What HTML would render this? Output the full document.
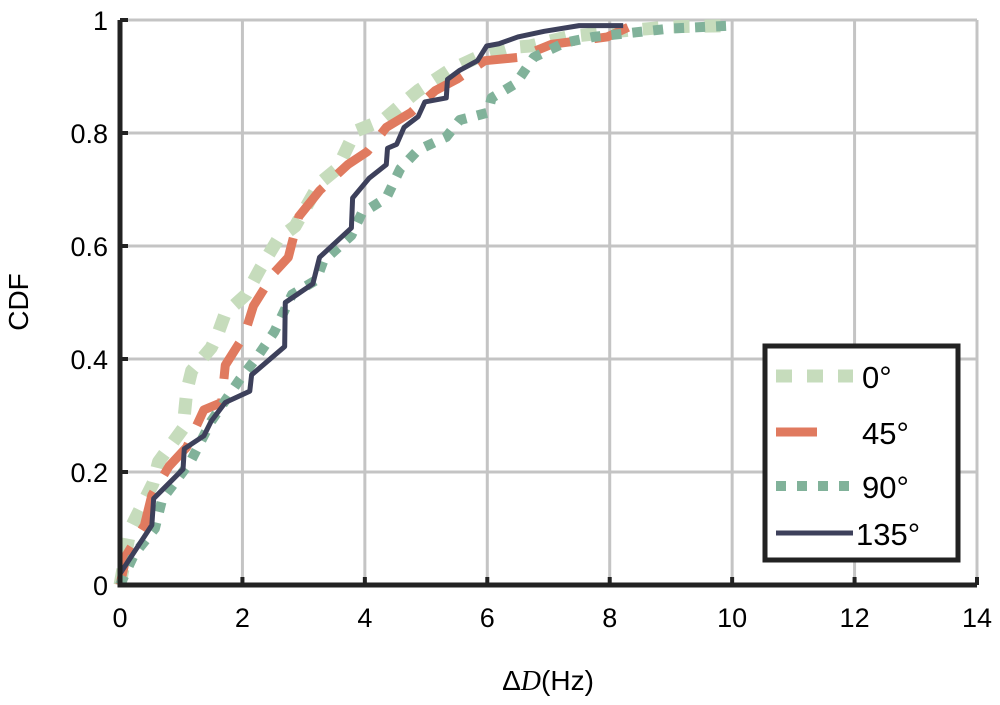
<!DOCTYPE html>
<html><head><meta charset="utf-8"><style>
body{margin:0;background:#fff}
svg text{font-family:"Liberation Sans",sans-serif;fill:#000}
</style></head><body>
<svg width="1000" height="700" viewBox="0 0 1000 700" xmlns="http://www.w3.org/2000/svg">
<g id="grid"></g>
<g id="series"></g>
<g id="axes"></g>
<text x="28" y="302" font-size="28" text-anchor="middle" transform="rotate(-90 28 302)">CDF</text>
<text x="548" y="690" font-size="28" text-anchor="middle">Δ<tspan font-family="Liberation Serif" font-style="italic">D</tspan>(Hz)</text>
<g>
<rect x="765" y="346" width="193" height="214" fill="#fff" stroke="#222" stroke-width="5"/>
<line x1="776" y1="376" x2="853" y2="376" stroke="#c6dcbc" stroke-width="13" stroke-dasharray="16 15"/>
<text x="862" y="388" font-size="31">0°</text>
<line x1="776" y1="432" x2="817" y2="432" stroke="#e07a5f" stroke-width="9"/>
<text x="862" y="444" font-size="31">45°</text>
<line x1="776" y1="486" x2="853" y2="486" stroke="#81b29a" stroke-width="10" stroke-dasharray="10 11"/>
<text x="862" y="498" font-size="31">90°</text>
<line x1="776" y1="533" x2="853" y2="533" stroke="#3d405b" stroke-width="5"/>
<text x="856" y="545" font-size="31">135°</text>
</g>
</svg>
<script>
const xTicks=[0,2,4,6,8,10,12,14];
const yTicks=[0,0.2,0.4,0.6,0.8,1];
const yTickLabels=["0","0.2","0.4","0.6","0.8","1"];
const s0x=[0,0.17,0.54,0.63,1.03,1.09,1.17,1.49,1.6,1.72,2.06,2.29,2.58,2.86,3.26,3.55,3.84,4.3,4.58,4.87,5.38,5.84,6.36,6.7,7.3,8.13,9,10];
const s0y=[0,0.1,0.18,0.218,0.277,0.343,0.379,0.42,0.445,0.481,0.514,0.56,0.612,0.635,0.711,0.737,0.803,0.823,0.849,0.875,0.911,0.934,0.951,0.954,0.97,0.98,0.988,0.99];
const s45x=[0,0.11,0.4,0.52,0.8,1.09,1.37,1.66,1.72,2.03,2.18,2.52,2.75,2.92,3.26,3.72,4.04,4.35,4.75,5.15,5.5,5.96,6.53,7.05,7.96,8.3];
const s45y=[0,0.054,0.106,0.159,0.21,0.244,0.31,0.323,0.389,0.442,0.494,0.553,0.58,0.652,0.698,0.744,0.767,0.81,0.836,0.875,0.895,0.928,0.934,0.957,0.97,0.987];
const s90x=[0,0.23,0.57,0.69,1.15,1.49,1.95,2.23,2.52,2.81,3.21,3.32,3.78,3.95,4.35,4.58,4.87,5.33,5.55,6.01,6.07,6.47,6.76,7.27,7.73,8.07,9,10];
const s90y=[0,0.054,0.1,0.152,0.218,0.29,0.363,0.402,0.448,0.514,0.54,0.573,0.619,0.658,0.685,0.737,0.77,0.793,0.823,0.836,0.862,0.888,0.934,0.96,0.97,0.974,0.985,0.99];
const s135x=[0,0,0.52,0.55,1.03,1.05,1.37,1.49,1.72,2.12,2.15,2.69,2.7,3.15,3.26,3.78,3.8,4.07,4.35,4.37,4.52,4.64,4.87,4.98,5.33,5.35,5.55,5.84,5.99,6.19,6.5,6.93,7.5,8.22];
const s135y=[0,0.02,0.106,0.153,0.205,0.241,0.264,0.29,0.323,0.343,0.372,0.422,0.5,0.533,0.58,0.632,0.685,0.72,0.744,0.773,0.78,0.81,0.829,0.855,0.862,0.895,0.911,0.928,0.954,0.958,0.97,0.98,0.99,0.99];
const NS="http://www.w3.org/2000/svg";
const X0=120,X1=977,Y0=585,Y1=20;
function sx(v){return X0+(v-0)/(14-0)*(X1-X0);}
function sy(v){return Y0-(v-0)/(1-0)*(Y0-Y1);}
function mk(tag,attrs,parent){const e=document.createElementNS(NS,tag);for(const k in attrs)e.setAttribute(k,attrs[k]);parent.appendChild(e);return e;}
const grid=document.getElementById('grid'),axes=document.getElementById('axes'),ser=document.getElementById('series');
xTicks.forEach(t=>{
 const l=mk('line',{x1:sx(t),x2:sx(t),y1:Y1,y2:Y0,stroke:'#c4c4c4','stroke-width':3},grid);
 
 
 const k=mk('line',{x1:sx(t),x2:sx(t),y1:Y0,y2:Y0-8,stroke:'#222','stroke-width':4},axes);
 
 
 const tx=mk('text',{x:sx(t),y:Y0+42,'font-size':27,'text-anchor':'middle'},axes);
 tx.textContent=String(t);
 
 
});
yTicks.forEach((t,i)=>{
 const l=mk('line',{x1:X0,x2:X1,y1:sy(t),y2:sy(t),stroke:'#c4c4c4','stroke-width':3},grid);
 
 
 const k=mk('line',{x1:X0,x2:X0+8,y1:sy(t),y2:sy(t),stroke:'#222','stroke-width':4},axes);
 
 
 const tx=mk('text',{x:X0-12,y:sy(t)+10,'font-size':27,'text-anchor':'end'},axes);
 tx.textContent=yTickLabels[i];
 
 
});
const ax=mk('path',{d:`M${X0},${Y1} V${Y0} H${X1}`,fill:'none',stroke:'#222','stroke-width':5},axes);


function line(xs,ys,st,name){
 const pts=xs.map((x,i)=>sx(x)+','+sy(ys[i])).join(' ');
 const p=mk('polyline',Object.assign({points:pts,fill:'none','stroke-linejoin':'round'},st),ser);
 
 
}
line(s0x,s0y,{stroke:'#c6dcbc','stroke-width':13,'stroke-dasharray':'16 15'},'series-0deg');
line(s45x,s45y,{stroke:'#e07a5f','stroke-width':9,'stroke-dasharray':'40 20'},'series-45deg');
line(s90x,s90y,{stroke:'#81b29a','stroke-width':10,'stroke-dasharray':'10 11'},'series-90deg');
line(s135x,s135y,{stroke:'#3d405b','stroke-width':5},'series-135deg');
</script>
</body></html>
